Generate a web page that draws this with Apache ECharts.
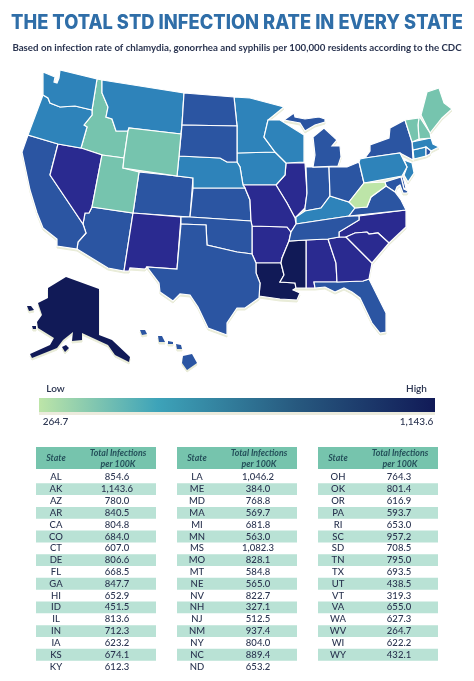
<![CDATA[<!DOCTYPE html>
<html><head><meta charset="utf-8">
<script src="https://cdn.jsdelivr.net/npm/echarts@6/dist/echarts.min.js"></script>
<style>html,body{margin:0;background:#fff}#c{width:474px;height:681px}</style></head>
<body><div id="c"></div>
<script>
const titleText = 'THE TOTAL STD INFECTION RATE IN EVERY STATE';
const subtitleText = 'Based on infection rate of chlamydia, gonorrhea and syphilis per 100,000 residents according to the CDC';
const stateCodes = ['AL','AK','AZ','AR','CA','CO','CT','DE','FL','GA','HI','ID','IL','IN','IA','KS','KY',
  'LA','ME','MD','MA','MI','MN','MS','MO','MT','NE','NV','NH','NJ','NM','NY','NC','ND',
  'OH','OK','OR','PA','RI','SC','SD','TN','TX','UT','VT','VA','WA','WV','WI','WY'];
const infectionRates = [854.6,1143.6,780.0,840.5,804.8,684.0,607.0,806.6,668.5,847.7,652.9,451.5,813.6,712.3,623.2,674.1,612.3,
  1046.2,384.0,768.8,569.7,681.8,563.0,1082.3,828.1,584.8,565.0,822.7,327.1,512.5,937.4,804.0,889.4,653.2,
  764.3,801.4,616.9,593.7,653.0,957.2,708.5,795.0,693.5,438.5,319.3,655.0,627.3,264.7,622.2,432.1];
const legendMin = '264.7', legendMax = '1,143.6';
const binEdges = [300, 500, 650, 810, 1000];
const binColors = ['#bde5a8','#76c4ae','#2e83ba','#2b55a2','#2a2a90','#111a57'];
const colorOverrides = {RI:'#2a2a90'};
const gradientStops = [[0,'#bde5a8'],[0.3,'#3da3b9'],[0.65,'#27597f'],[1,'#111a57']];

// State outlines: map geometry traced from the reference, in the map's own plane.
const stateOutlines = {
WA:[[[43,72],[55,77],[54,82],[57,83],[59,78],[60,70],[97,79],[92,110],[75,106],[60,107],[50,103],[48,98],[43,95]]],
OR:[[[43,95],[48,98],[50,103],[60,107],[75,106],[92,110],[92,115],[84,125],[87,127],[81,148],[58,144],[28,135]]],
ID:[[[97,79],[102,80],[102,93],[108,107],[106,117],[112,119],[116,131],[128,131],[124,158],[102,155],[81,148],[87,127],[84,125],[92,115],[92,110]]],
MT:[[[102,80],[184,93],[182,125],[181,134],[129,128],[128,131],[116,131],[112,119],[106,117],[108,107],[102,93]]],
WY:[[[129,128],[181,134],[179,156],[177,176],[123,168],[124,158],[128,131]]],
UT:[[[102,155],[124,158],[123,168],[139,172],[133,213],[92,207]]],
NV:[[[58,144],[81,148],[102,155],[92,207],[89,213],[85,213],[83,224],[50,175]]],
CA:[[[28,135],[58,144],[50,175],[83,224],[86,233],[78,242],[77,249],[57,246],[57,239],[43,228],[37,213],[30,190],[22,152]]],
AZ:[[[92,207],[133,213],[124,271],[108,268],[77,249],[78,242],[86,233],[83,224],[85,213],[89,213]]],
NM:[[[133,213],[181,217],[177,269],[147,267],[145,269],[130,268],[129,271],[124,271]]],
CO:[[[139,172],[177,176],[193,178],[190,217],[133,213]]],
KS:[[[193,188],[245,188],[250,200],[251,221],[190,217]]],
NE:[[[179,156],[220,158],[227,162],[237,162],[240,167],[243,185],[245,188],[193,188],[193,178],[177,176]]],
OK:[[[181,217],[190,217],[251,221],[252,226],[252,254],[245,253],[237,252],[207,245],[206,225],[181,224]]],
TX:[[[181,224],[206,225],[207,245],[237,252],[245,253],[252,254],[256,263],[256,273],[260,283],[259,298],[245,308],[237,308],[227,323],[227,335],[208,328],[198,307],[190,295],[180,294],[173,301],[160,292],[159,283],[147,267],[177,269]]],
ND:[[[184,93],[234,97],[237,126],[182,125]]],
SD:[[[182,125],[237,126],[237,162],[227,162],[220,158],[179,156]]],
MN:[[[234,97],[250,98],[284,107],[268,120],[264,137],[275,152],[237,153],[237,126]]],
WI:[[[268,120],[280,120],[304,135],[304,162],[286,163],[275,152],[264,137]]],
IA:[[[237,153],[275,152],[286,163],[285,175],[276,185],[243,185],[240,167],[237,162]]],
IL:[[[286,163],[305,163],[307,193],[305,208],[295,218],[287,203],[276,185],[285,175]]],
MO:[[[243,185],[276,185],[287,203],[295,218],[296,224],[291,232],[287,227],[252,226],[251,221],[250,200],[245,188]]],
AR:[[[252,226],[287,227],[291,232],[289,241],[282,258],[281,263],[256,263],[252,254]]],
LA:[[[256,263],[281,263],[284,275],[280,282],[295,283],[296,288],[293,290],[300,293],[297,300],[280,299],[259,296],[260,283],[256,273]]],
MS:[[[289,241],[306,240],[306,288],[296,288],[295,283],[280,282],[284,275],[281,263],[282,258]]],
AL:[[[306,240],[328,239],[336,263],[337,282],[314,282],[315,288],[306,288]]],
GA:[[[328,239],[339,237],[346,237],[372,263],[369,279],[363,281],[337,282],[336,263]]],
FL:[[[314,282],[337,282],[363,281],[369,279],[386,313],[386,332],[380,333],[372,323],[360,298],[352,292],[344,288],[335,292],[325,287],[315,288]]],
SC:[[[346,237],[355,233],[367,232],[369,234],[378,233],[389,243],[372,263]]],
NC:[[[359,216],[406,210],[406,227],[389,243],[378,233],[369,234],[367,232],[355,233],[346,237],[339,237],[339,232],[359,220]]],
TN:[[[296,224],[349,216],[359,216],[359,220],[339,232],[339,237],[328,239],[306,240],[289,241],[291,232]]],
KY:[[[296,224],[296,217],[305,211],[321,208],[330,196],[349,202],[355,208],[349,216]]],
IN:[[[306,167],[329,167],[330,196],[321,208],[305,211],[305,208],[307,193]]],
OH:[[[329,167],[347,167],[359,162],[364,183],[349,202],[330,196]]],
MI:[[[284,120],[294,113],[295,117],[305,119],[319,117],[325,119],[325,122],[315,125],[305,131],[300,123]],
    [[313,137],[324,128],[337,140],[332,146],[340,146],[341,157],[338,166],[313,167],[315,155]]],
PA:[[[359,162],[360,159],[365,158],[400,153],[407,167],[402,176],[364,183]]],
NY:[[[365,158],[370,151],[370,145],[389,138],[390,128],[405,120],[412,142],[413,160],[400,153]]],
VT:[[[405,120],[419,118],[418,125],[419,139],[412,142]]],
NH:[[[419,116],[430,133],[431,138],[419,139],[418,125]]],
ME:[[[427,92],[439,88],[444,103],[452,109],[442,118],[430,133],[421,115]]],
MA:[[[412,142],[431,138],[433,144],[439,147],[431,151],[426,147],[413,150]]],
CT:[[[413,150],[426,147],[426,156],[414,159]]],
RI:[[[426,147],[431,151],[430,154],[426,156]]],
NJ:[[[404,160],[412,163],[414,173],[408,182],[404,175],[407,167]]],
DE:[[[401,177],[403,177],[406,188],[404,189]]],
MD:[[[385,182],[401,177],[404,189],[408,191],[407,193],[403,193],[400,185],[397,187],[395,192],[386,186]]],
VA:[[[349,216],[355,208],[367,207],[371,197],[386,186],[395,192],[401,200],[406,210]]],
WV:[[[349,202],[364,183],[385,182],[386,186],[371,197],[367,207],[355,208]]],
AK:[[[66,277],[99,289],[99,335],[112,340],[130,357],[129,362],[115,355],[108,345],[82,333],[82,340],[72,341],[73,332],[63,340],[57,348],[32,358],[30,354],[50,345],[54,338],[38,328],[37,322],[42,315],[38,303],[48,298],[48,288]],
    [[62,347],[66,345],[69,348],[65,352]],[[27,306],[31,306],[34,310],[29,311]],[[32,326],[36,326],[36,329],[33,329]]],
HI:[[[140,330],[145,330],[147,334],[142,335]],[[158,336],[162,336],[165,342],[159,342]],[[168,341],[173,342],[173,344],[168,344]],[[176,344],[181,345],[182,349],[177,349]],[[183,356],[192,354],[197,363],[187,370],[182,363]]]
};

const geoJson = {type:'FeatureCollection',features:stateCodes.map(c=>({type:'Feature',properties:{name:c},
  geometry:{type:'MultiPolygon',coordinates:stateOutlines[c].map(r=>[r.concat([r[0]])])}}))};
const chart = echarts.init(document.getElementById('c'),null,{renderer:'canvas'});
echarts.registerMap('usa',geoJson);
const identity = {project:p=>p,unproject:p=>p};
const mapBox = {left:0,width:474,height:681,boundingCoords:[[0,0],[474,681]],projection:identity,roam:false,silent:true};

const pieces = binColors.map((color,i)=>{
  const p={color};
  if(i>0)p.gte=binEdges[i-1];
  if(i<binEdges.length)p.lt=binEdges[i];
  return p;
});

const graphics = [];
const txt=(x,y,text,style,extra)=>graphics.push(Object.assign({type:'text',x,y,silent:true,style:Object.assign({text,align:'center',verticalAlign:'middle'},style)},extra||{}));
const bodyFont='"Lato"';
txt(237,23,titleText,{font:'800 20px "Inter"',fill:'#2f6ea8'},{scaleX:0.915});
txt(237,47.5,subtitleText,{font:'700 9.7px '+bodyFont,fill:'#2a3450'});
txt(55.5,389,'Low',{font:'600 10px '+bodyFont,fill:'#2a3450'});
txt(416.5,389,'High',{font:'600 10px '+bodyFont,fill:'#2a3450'});
txt(55.5,422,legendMin,{font:'500 10px '+bodyFont,fill:'#2a3450'});
txt(416.5,422,legendMax,{font:'500 10px '+bodyFont,fill:'#2a3450'});
graphics.push({type:'rect',silent:true,shape:{x:39,y:400,width:396,height:15},style:{fill:'#ecebdd'}});
graphics.push({type:'rect',silent:true,shape:{x:39,y:398,width:396,height:14},
  style:{fill:new echarts.graphic.LinearGradient(0,0,1,0,gradientStops.map(s=>({offset:s[0],color:s[1]})))}});

const tableColumns=[0,17,34,50];
const tableX=[36,177,318];
const rowH=11.83, firstRowY=477.3, tableW=120;
tableX.forEach((x0,ci)=>{
  graphics.push({type:'rect',silent:true,shape:{x:x0,y:447,width:tableW,height:22},style:{fill:'#76c4ad'}});
  txt(x0+20,458,'State',{font:'italic 700 8.8px '+bodyFont,fill:'#24505a'});
  txt(x0+82,453.2,'Total Infections',{font:'italic 700 8.8px '+bodyFont,fill:'#24505a'});
  txt(x0+82,464,'per 100K',{font:'italic 700 8.8px '+bodyFont,fill:'#24505a'});
  const from=tableColumns[ci],to=tableColumns[ci+1];
  for(let i=from;i<to;i++){
    const r=i-from, y=firstRowY+r*rowH;
    if(r%2===1)graphics.push({type:'rect',silent:true,shape:{x:x0,y:y-5.9,width:tableW,height:rowH},style:{fill:'#b9e2d5'}});
    const v=infectionRates[i];
    const s=v.toLocaleString('en-US',{minimumFractionDigits:1,maximumFractionDigits:1});
    txt(x0+20,y,stateCodes[i],{font:'500 9.5px '+bodyFont,fill:'#2a3450'});
    txt(x0+81,y,s,{font:'500 9.5px '+bodyFont,fill:'#2a3450'});
  }
});

const noBorder={AK:1,HI:1};
chart.setOption({
  animation:false,
  backgroundColor:'#fff',
  visualMap:{type:'piecewise',show:false,seriesIndex:0,dimension:0,pieces},
  geo:Object.assign({map:'usa',top:2,z:1,itemStyle:{areaColor:'#e9ecd8',borderColor:'#e9ecd8',borderWidth:1},emphasis:{disabled:true},label:{show:false}},mapBox),
  series:[Object.assign({type:'map',map:'usa',top:0,z:3,
    itemStyle:{borderColor:'#ffffff',borderWidth:1.2},emphasis:{disabled:true},select:{disabled:true},label:{show:false},
    data:stateCodes.map((c,i)=>{
      const d={name:c,value:infectionRates[i]};
      const st={};
      if(colorOverrides[c])st.areaColor=colorOverrides[c];
      if(noBorder[c])st.borderWidth=0;
      d.itemStyle=st;
      return d;
    })},mapBox)],
  graphic:{elements:graphics}
});
</script></body></html>]]>
